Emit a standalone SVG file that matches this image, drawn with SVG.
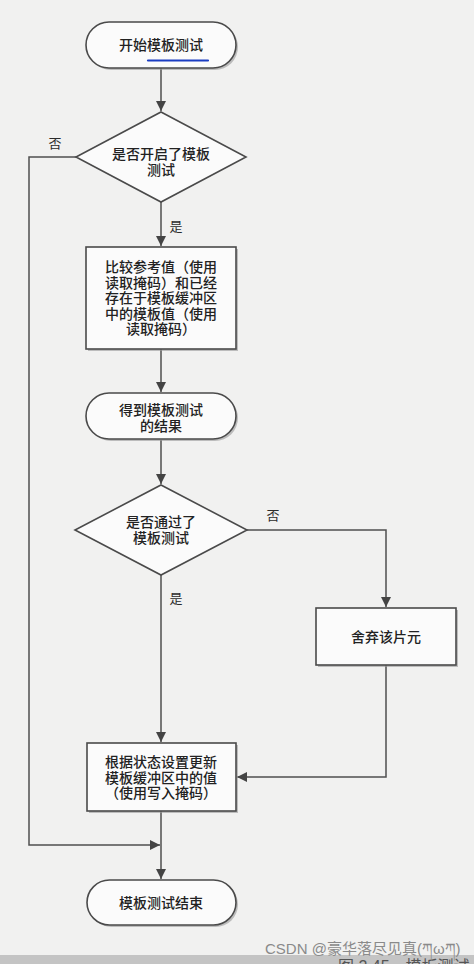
<svg xmlns="http://www.w3.org/2000/svg" width="474" height="964" viewBox="0 0 474 964">
<defs>
<marker id="ah" viewBox="0 0 10 10" refX="10" refY="5" markerWidth="10" markerHeight="10" markerUnits="userSpaceOnUse" orient="auto">
<path d="M0,0 L10,5 L0,10 z" fill="#444"/>
</marker>
<style>
.shape{fill:#fbfbfb;stroke:#4a4a4a;stroke-width:1.6}
.shadow{fill:#9a9a9a;opacity:0.6}
.t{font-family:"Liberation Sans","Noto Sans CJK SC","Noto Sans CJK TC",sans-serif;font-size:14px;fill:#222;text-anchor:middle;font-weight:500}
.lbl{font-family:"Noto Sans CJK SC",sans-serif;font-size:13px;fill:#2b2b2b;text-anchor:middle}
.c{fill:none;stroke:#4f4f4f;stroke-width:1.5}
</style>
</defs>
<rect width="474" height="964" fill="#f1f1f0"/>
<g id="connectors">
<path class="c" d="M161,68 V111" marker-end="url(#ah)"/>
<path class="c" d="M161,202 V246" marker-end="url(#ah)"/>
<path class="c" d="M161,349 V392" marker-end="url(#ah)"/>
<path class="c" d="M161,440 V484" marker-end="url(#ah)"/>
<path class="c" d="M247,530 H386 V607" marker-end="url(#ah)"/>
<path class="c" d="M161,575 V742" marker-end="url(#ah)"/>
<path class="c" d="M386,665 V777 H237" marker-end="url(#ah)"/>
<path class="c" d="M161,811 V879" marker-end="url(#ah)"/>
<path class="c" d="M76,157 H29 V845 H160" marker-end="url(#ah)"/>
<text class="lbl" x="55" y="148">否</text>
<text class="lbl" x="176" y="231">是</text>
<text class="lbl" x="273" y="520">否</text>
<text class="lbl" x="176" y="603">是</text>
</g>
<g id="start">
<rect class="shadow" x="88" y="24" width="150" height="46" rx="23"/>
<rect class="shape" x="86" y="22" width="150" height="46" rx="23"/>
<text class="t" x="161" y="50">开始模板测试</text>
<line x1="148" y1="60.5" x2="208" y2="60.5" stroke="#1a3dc2" stroke-width="2.2" stroke-linecap="round"/>
</g>
<g id="decision1">
<polygon class="shape" points="161,112 246,157 161,202 76,157"/>
<text class="t" x="161" y="159">是否开启了模板<tspan x="161" dy="16">测试</tspan></text>
</g>
<g id="compare">
<rect class="shadow" x="88" y="249" width="150" height="102"/>
<rect class="shape" x="86" y="247" width="150" height="102"/>
<text class="t" x="161" y="272">比较参考值（使用<tspan x="161" dy="15.5">读取掩码）和已经</tspan><tspan x="161" dy="15.5">存在于模板缓冲区</tspan><tspan x="161" dy="15.5">中的模板值（使用</tspan><tspan x="161" dy="15.5">读取掩码）</tspan></text>
</g>
<g id="result">
<rect class="shadow" x="88" y="395" width="150" height="46" rx="23"/>
<rect class="shape" x="86" y="393" width="150" height="46" rx="23"/>
<text class="t" x="161" y="415">得到模板测试<tspan x="161" dy="15.5">的结果</tspan></text>
</g>
<g id="decision2">
<polygon class="shape" points="161,485 247,530 161,575 75,530"/>
<text class="t" x="161" y="526.5">是否通过了<tspan x="161" dy="16">模板测试</tspan></text>
</g>
<g id="discard">
<rect class="shadow" x="318" y="610" width="140" height="57"/>
<rect class="shape" x="316" y="608" width="140" height="57"/>
<text class="t" x="386" y="642">舍弃该片元</text>
</g>
<g id="update">
<rect class="shadow" x="89" y="745" width="149" height="68"/>
<rect class="shape" x="87" y="743" width="149" height="68"/>
<text class="t" x="161" y="767">根据状态设置更新<tspan x="161" dy="15.5">模板缓冲区中的值</tspan><tspan x="161" dy="15.5">（使用写入掩码）</tspan></text>
</g>
<g id="end">
<rect class="shadow" x="89" y="882" width="149" height="45" rx="22.5"/>
<rect class="shape" x="87" y="880" width="149" height="45" rx="22.5"/>
<text class="t" x="161" y="908">模板测试结束</text>
</g>
<rect x="0" y="955" width="474" height="9" fill="#c4c4c4"/>
<text x="338" y="972" font-family="Liberation Sans,Noto Sans CJK SC,sans-serif" font-size="16" fill="#555">图 2.45　模板测试</text>
<text x="265" y="954" font-family="Liberation Sans,Noto Sans CJK SC,sans-serif" font-size="15" fill="#8a8a8a">CSDN @豪华落尽见真(ཀωཀ)</text>
</svg>
